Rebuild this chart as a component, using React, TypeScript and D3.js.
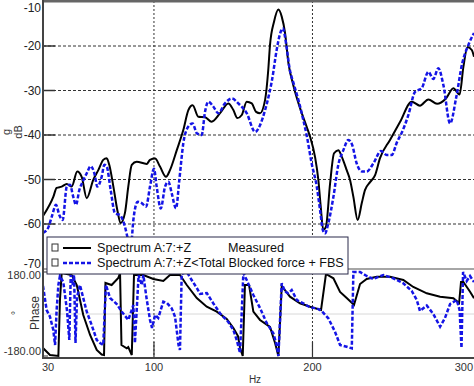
import { scaleLinear, line, curveMonotoneX, curveLinear } from 'd3';

// Spectrum, measured (Hz, dB)
const measuredDb: [number, number][] = [
  [30, -58.2], [36.5, -53.9], [38.6, -51.9], [41.8, -51.6], [45.0, -51.0], [48.1, -51.6], [51.6, -48.2],
  [54.4, -49.4], [57.6, -54.2], [61.7, -50.1], [64.9, -47.9], [68.0, -45.6], [70.2, -45.2], [71.8, -46.7],
  [74.4, -51.6], [76.9, -56.9], [79.0, -59.8], [81.7, -57.5], [83.8, -51.6], [86.0, -46.7], [89.1, -46.0],
  [95.4, -46.5], [97.5, -45.6], [100.7, -45.3], [103.8, -47.1], [107.6, -49.4], [110.1, -47.9], [114.4, -43.4],
  [118.5, -38.9], [121.7, -34.4], [124.4, -33.3], [128.0, -35.9], [132.2, -36.0], [136.4, -37.0], [141.7, -35.1],
  [146.9, -32.9], [150.1, -34.4], [152.6, -36.2], [155.4, -35.5], [158.5, -32.5], [161.7, -32.9], [164.4, -34.8],
  [166.9, -35.1], [170.1, -32.1], [172.1, -25.4], [173.2, -19.8], [175.7, -14.6], [178.5, -11.8], [180.6, -13.4],
  [182.7, -17.1], [184.8, -23.8], [187.9, -28.8], [192.1, -33.9], [196.4, -38.2], [198.5, -40.4], [201.6, -44.9],
  [203.7, -50.1], [205.2, -56.1], [206.8, -61.3], [208.5, -60.6], [211.1, -50.9], [213.6, -44.1], [216.3, -43.4],
  [218.5, -44.9], [221.6, -47.9], [223.7, -50.1], [225.8, -53.9], [228.5, -59.1], [231.1, -55.3], [233.1, -52.4],
  [236.3, -50.6], [239.5, -49.0], [242.6, -45.2], [248.9, -41.1], [255.2, -37.1], [262.6, -32.5], [267.8, -33.4],
  [273.1, -32.0], [278.6, -33.0], [284.2, -31.8], [288.9, -29.5], [292.8, -30.9], [295.2, -24.7], [297.8, -20.2],
  [300.5, -20.9], [301.9, -22.4],
];

// Spectrum, total blocked force + FBS (Hz, dB)
const fbsDb: [number, number][] = [
  [30, -62.0], [33.2, -60.9], [35.5, -58.4], [38.2, -55.7], [40.3, -58.0], [42.4, -59.1], [45.0, -51.6],
  [47.0, -51.2], [49.1, -53.9], [50.8, -55.7], [52.9, -52.4], [55.0, -50.5], [57.6, -48.6], [60.1, -47.0],
  [62.4, -48.6], [64.3, -51.6], [67.0, -49.4], [68.7, -46.7], [70.2, -47.1], [72.7, -52.4], [75.4, -57.6],
  [78.6, -58.0], [81.7, -60.6], [83.8, -63.6], [85.5, -64.7], [87.0, -59.1], [89.7, -55.0], [92.3, -55.3],
  [95.0, -56.1], [97.5, -51.6], [100.0, -47.6], [101.7, -51.6], [104.3, -56.5], [107.0, -51.6], [109.1, -50.5],
  [111.2, -53.1], [113.9, -56.5], [116.0, -50.1], [118.5, -41.9], [121.7, -38.1], [124.4, -37.4], [127.0, -39.6],
  [130.1, -40.0], [132.2, -34.8], [134.3, -32.5], [137.4, -33.6], [140.6, -35.1], [144.8, -32.9], [149.1, -31.8],
  [153.2, -32.9], [158.5, -35.1], [163.8, -39.3], [166.9, -37.8], [170.1, -34.4], [172.8, -30.6], [174.5, -27.6],
  [177.4, -20.9], [179.5, -17.3], [181.2, -16.0], [183.5, -19.8], [185.4, -24.7], [188.4, -28.8], [191.1, -32.1],
  [194.2, -36.6], [196.4, -40.2], [199.5, -46.4], [202.7, -51.6], [204.8, -56.9], [206.5, -61.3], [207.9, -62.1],
  [210.0, -59.8], [213.2, -53.9], [216.3, -46.7], [219.5, -43.4], [222.6, -41.1], [225.0, -42.2], [227.9, -46.4],
  [231.1, -48.2], [234.2, -48.2], [238.4, -46.4], [243.2, -43.6], [246.8, -44.5], [250.0, -44.5], [253.3, -41.6],
  [256.3, -39.5], [260.5, -35.5], [264.7, -30.3], [268.9, -29.5], [273.1, -25.8], [276.2, -27.4], [279.4, -25.0],
  [282.6, -28.8], [286.8, -37.4], [290.6, -31.7], [294.4, -24.0], [298.3, -19.8], [301.9, -17.1],
];

// Phase, measured (Hz, deg)
const measuredPhase: [number, number][] = [
  [30, -146], [34.4, -175.7], [39.7, -180], [40.7, 60], [41.8, 175.7], [48.1, 167.1], [51.3, 124.3],
  [55.4, -4.3], [59.7, -90], [63.9, -154.3], [67.0, -173.6], [68.5, -175.7], [69.4, 132.9], [73.3, 124.3],
  [77.5, 154.3], [78.6, 175.7], [79.5, -132.9], [82.8, -147], [83.8, -141.4], [86.0, -175.7], [87.4, 167.1],
  [93.3, 167.1], [99.6, 150], [105.9, 141.4], [110.1, 167.1], [116.4, 167.1], [120.7, 124.3], [127.0, 68.6],
  [133.3, 31.3], [139.6, 9.9], [145.9, -21.4], [150.1, -60], [153.0, -94.3], [154.3, -145.7], [156.0, -180],
  [157.4, 124.3], [160.0, 124.3], [162.7, 9.9], [166.9, -25.7], [173.2, -55.7], [176.4, -124.3], [178.5, -180],
  [180.6, 120], [185.8, 74.1], [192.1, 45.9], [198.5, 31.3], [205.4, 17.1], [208.5, 171.4], [213.2, 153],
  [217.4, 94.3], [221.6, 68.6], [226.2, 38.6], [230.0, 128.6], [234.2, 150], [240.5, 159.9], [248.9, 159.9],
  [257.3, 145.7], [263.6, 115.7], [272.1, 88.7], [280.5, 74.1], [288.9, 67.3], [292.5, 47.1], [293.7, 137.1],
  [295.2, 137.1], [299.4, 95.6], [301.9, 67.3],
];

// Phase, total blocked force + FBS (Hz, deg)
const fbsPhase: [number, number][] = [
  [30, 120], [32.3, 17.1], [34.4, -11.6], [36.5, -68.6], [37.6, -132.9], [38.6, 17.1], [39.7, 124.3],
  [40.7, 162.9], [42.8, 137.1], [45.1, 17.1], [46.6, -111.4], [47.5, 167.1], [48.6, 124.3], [49.6, 167.1],
  [50.5, -124.3], [51.5, 72.9], [53.3, 124.3], [57.6, 9.9], [60.7, -47.1], [63.9, -111.4], [66.0, -124.3],
  [68.0, -132.9], [69.7, 124.3], [72.3, 68.6], [76.5, 42.9], [79.7, 9.9], [83.8, -25.7], [86.0, 17.1],
  [87.0, 38.6], [88.0, -124.3], [90.3, 167.1], [92.3, 124.3], [93.3, 167.1], [95.3, 68.6], [97.5, -25.7],
  [98.8, -60], [100.7, -4.3], [102.7, -17.1], [105.9, 52.7], [108.2, 47.1], [111.2, 24.4], [113.3, -11.6],
  [115.5, -132.9], [116.4, -154.3], [117.5, 171.4], [120.7, 180], [123.8, 145.7], [127.0, 111.4], [129.1, 85.7],
  [133.3, 90], [137.4, 45.9], [141.7, 3.0], [146.9, -34.3], [150.1, -68.6], [152.2, -111.4], [154.3, -167.1],
  [156.4, 175.7], [158.5, 145.7], [162.7, 81.4], [166.9, 25.7], [171.1, -38.6], [175.3, -82.7], [177.4, -132.9],
  [178.5, -180], [180.6, 131.6], [182.7, 95.6], [184.8, 88.7], [186.9, 102.9], [190.1, 60], [194.2, 45.9],
  [198.5, 27.9], [202.7, 24.4], [205.8, 12.9], [210.0, -18.4], [214.2, -75.9], [217.4, -132.9], [221.6, -140.1],
  [224.8, -147], [225.8, 180], [230.0, 180], [234.2, 162.9], [238.4, 150], [244.7, 167.1], [251.0, 153],
  [257.3, 131.6], [262.6, 98.6], [265.8, 60], [267.8, 12.9], [272.1, 36.4], [276.2, 0], [280.5, -54.4],
  [283.6, -17.1], [286.8, 42.9], [291.0, 60], [292.8, 17.1], [294.0, -145.7], [295.0, 180], [297.3, 141.4],
  [299.4, 162.9], [301.9, 137.1],
];

const dbTicks = [-10, -20, -30, -40, -50, -60, -70];
const phaseTicks = [180, -180];
const freqTicks = [30, 100, 200, 300];
const legendLabels = ['Spectrum A:7:+Z', 'Spectrum A:7:+Z<Total Blocked force + FBS'];
const legendNote = 'Measured';

const FONT = '"Liberation Sans", Arial, sans-serif';
const BLUE = '#1414e6';

export default function App() {
  const left = 43;
  const right = 474;
  const x = scaleLinear().domain([30, 300]).range([left, 471]);
  const yDb = scaleLinear().domain([-70, -10]).range([268.5, 1.5]);
  const yPh = scaleLinear().domain([-180, 180]).range([356, 272]);
  const phTop = 269;
  const phBottom = 358;

  const dbLine = line<[number, number]>().x(d => x(d[0])).y(d => yDb(d[1])).curve(curveMonotoneX);
  const phLine = line<[number, number]>().x(d => x(d[0])).y(d => yPh(d[1])).curve(curveLinear);

  const innerFreq = freqTicks.filter(f => f > 30 && f < 300);

  return (
    <svg width={474} height={386} style={{ position: 'absolute', left: 0, top: 0, background: '#fff' }}
      fontFamily={FONT}>
      <defs>
        <clipPath id="clipTop"><rect x={left} y={1} width={right - left} height={phTop - 1} /></clipPath>
        <clipPath id="clipPh"><rect x={left} y={phTop} width={right - left} height={phBottom - phTop} /></clipPath>
      </defs>

      {/* top panel grid */}
      {dbTicks.filter(t => t > -70 && t < -10).map(t => (
        <g key={t}>
          <line x1={left} x2={right} y1={yDb(t)} y2={yDb(t)} stroke="#333" strokeDasharray="3,2" />
          <line x1={left} x2={left + 12} y1={yDb(t)} y2={yDb(t)} stroke="#333" strokeWidth={1.5} />
        </g>
      ))}
      {innerFreq.map(f => (
        <line key={f} x1={x(f)} x2={x(f)} y1={1} y2={phTop} stroke="#333" strokeDasharray="2,2" />
      ))}

      {/* phase panel grid */}
      <line x1={left} x2={right} y1={yPh(0)} y2={yPh(0)} stroke="#d8d8d8" />
      {innerFreq.map(f => (
        <g key={f}>
          <line x1={x(f)} x2={x(f)} y1={phTop} y2={phBottom} stroke="#333" strokeDasharray="2,2" />
          <line x1={x(f)} x2={x(f)} y1={phBottom - 16} y2={phBottom} stroke="#333" strokeWidth={1.2} />
        </g>
      ))}
      {phaseTicks.map(t => (
        <line key={t} x1={left} x2={left + 5} y1={yPh(t)} y2={yPh(t)} stroke="#333" />
      ))}

      {/* curves */}
      <g clipPath="url(#clipTop)">
        <path d={dbLine(measuredDb) ?? ''} fill="none" stroke="#000" strokeWidth={2} />
        <path d={dbLine(fbsDb) ?? ''} fill="none" stroke={BLUE} strokeWidth={2.5} strokeDasharray="4,2" />
      </g>
      <g clipPath="url(#clipPh)">
        <path d={phLine(measuredPhase) ?? ''} fill="none" stroke="#000" strokeWidth={2} />
        <path d={phLine(fbsPhase) ?? ''} fill="none" stroke={BLUE} strokeWidth={2.5} strokeDasharray="4,2" />
      </g>

      {/* frame */}
      <line x1={left} x2={right} y1={1} y2={1} stroke="#666" strokeWidth={3} />
      <line x1={left} x2={right} y1={phTop} y2={phTop} stroke="#888" strokeWidth={1.5} />
      <line x1={left} x2={right} y1={phBottom} y2={phBottom} stroke="#444" strokeWidth={2} />
      <line x1={left} x2={left} y1={0} y2={phBottom + 1} stroke="#444" strokeWidth={2} />

      {/* dB tick labels */}
      {dbTicks.map(t => (
        <text key={t} x={41} y={yDb(t) + (t === -10 ? 6 : t === -70 ? -5 : 0)} textAnchor="end"
          dominantBaseline="central" fontSize={12} fill="#222">{t}</text>
      ))}
      {/* phase tick labels */}
      {phaseTicks.map(t => (
        <text key={t} x={41} y={yPh(t) + (t > 0 ? 3 : -5)} textAnchor="end" dominantBaseline="central"
          fontSize={11} fill="#333">{t.toFixed(2)}</text>
      ))}
      {/* freq tick labels (edge labels nudged inward) */}
      {freqTicks.map(f => (
        <text key={f} x={f === 30 ? x(f) + 5 : f === 300 ? 473 : x(f)} y={367}
          textAnchor={f === 300 ? 'end' : 'middle'} dominantBaseline="central"
          fontSize={11} fill="#333">{f}</text>
      ))}
      <text x={255} y={379} textAnchor="middle" dominantBaseline="central" fontSize={10} fill="#333">Hz</text>

      {/* axis titles */}
      <text transform="translate(6,132) rotate(-90)" textAnchor="middle" dominantBaseline="central"
        fontSize={11} fill="#333">g</text>
      <text transform="translate(18,132) rotate(-90)" textAnchor="middle" dominantBaseline="central"
        fontSize={11} fill="#333">dB</text>
      <text transform="translate(35,313) rotate(-90)" textAnchor="middle" dominantBaseline="central"
        fontSize={12} fill="#333">Phase</text>
      <text transform="translate(15,313) rotate(-90)" textAnchor="middle" dominantBaseline="central"
        fontSize={10} fill="#333">°</text>

      {/* legend */}
      <g>
        <rect x={47} y={237} width={301} height={37} fill="#fff" stroke="#2a2a4a" strokeWidth={1} />
        {legendLabels.map((label, i) => {
          const cy = 248 + i * 15;
          return (
            <g key={label}>
              <rect x={52} y={cy - 4} width={6} height={7} fill="none" stroke="#333" strokeWidth={1} />
              <line x1={63} x2={91} y1={cy} y2={cy} stroke={i === 0 ? '#000' : BLUE}
                strokeWidth={i === 0 ? 2 : 2.5} strokeDasharray={i === 0 ? undefined : '4,2'} />
              <text x={97} y={cy} dominantBaseline="central" fontSize={12.6} fill="#111">{label}</text>
            </g>
          );
        })}
        <text x={228} y={248} dominantBaseline="central" fontSize={12.6} fill="#111">{legendNote}</text>
      </g>
    </svg>
  );
}
